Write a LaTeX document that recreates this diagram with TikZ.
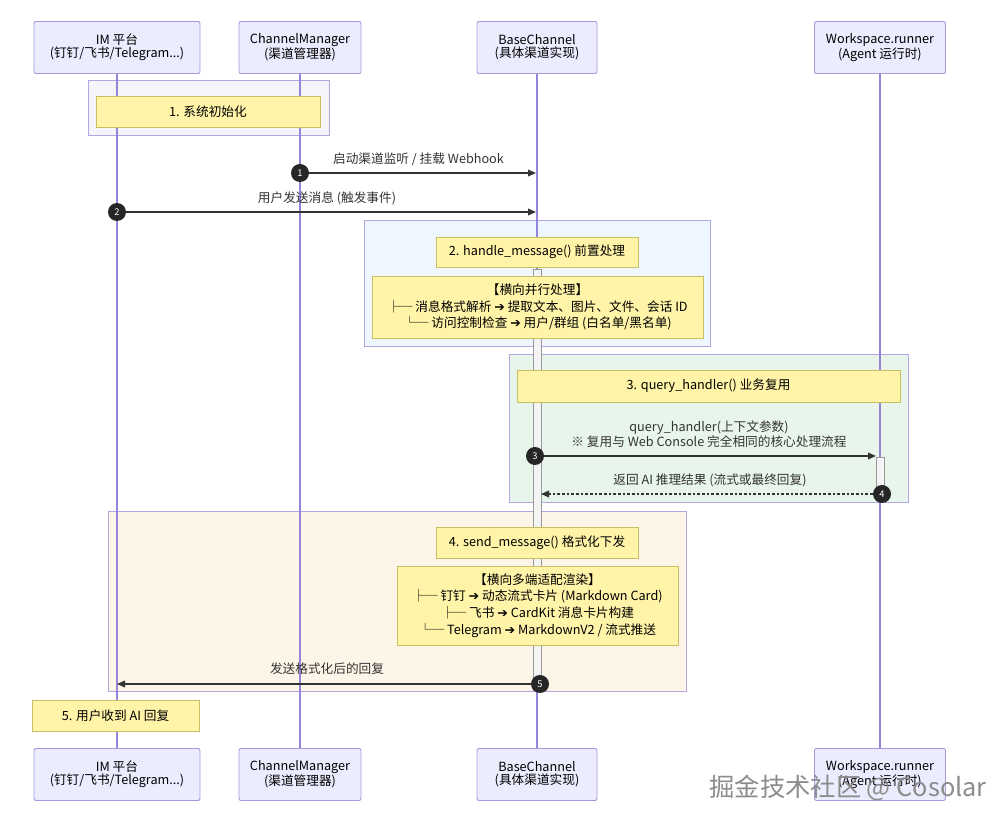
\documentclass[tikz,border=0pt]{standalone}
\usepackage{fontspec}
\setmainfont{Noto Sans CJK SC}
\newfontfamily\dejavu{DejaVu Sans}
\usetikzlibrary{arrows.meta}
\definecolor{actfill}{HTML}{ECECFF}
\definecolor{actdraw}{HTML}{A898E0}
\definecolor{lifecol}{HTML}{9585D8}
\definecolor{notefill}{HTML}{FFF4A8}
\definecolor{notedraw}{HTML}{C8C060}
\definecolor{gonefill}{HTML}{F4F4F9}
\definecolor{gtwofill}{HTML}{EEF6FF}
\definecolor{gthreefill}{HTML}{E8F5EA}
\definecolor{gfourfill}{HTML}{FDF5E8}
\definecolor{grpdraw}{HTML}{B4A6E4}
\definecolor{msgcol}{HTML}{333333}
\definecolor{barfill}{HTML}{F4F4F4}
\newcommand{\myarr}{{\dejavu ➔}}
\begin{document}
\begin{tikzpicture}[x=0.75pt,y=-0.75pt,
  actorbox/.style={draw=actdraw, fill=actfill, rounded corners=1.5pt, line width=0.7pt,
    minimum height=39pt, align=center, inner sep=0pt,
    font=\fontsize{9.5}{10}\selectfont, text=black},
  lifeline/.style={draw=lifecol, line width=1pt},
  grpbox/.style={draw=grpdraw, line width=0.7pt, inner sep=0pt},
  notebox/.style={draw=notedraw, fill=notefill, line width=0.6pt, align=center, inner sep=0pt,
    font=\fontsize{9.5}{12.6}\selectfont, text=black},
  actbar/.style={draw=gray!80, fill=barfill, line width=0.6pt, inner sep=0pt, minimum width=6pt},
  msgline/.style={draw=msgcol, line width=0.9pt, -{Triangle[length=6pt,width=5pt]}},
  retline/.style={draw=msgcol, line width=0.9pt, dash pattern=on 2pt off 1.5pt, -{Triangle[length=6pt,width=5pt]}},
  lbl/.style={font=\fontsize{9.5}{10.5}\selectfont, text=msgcol, align=center, inner sep=0pt},
  numcirc/.style={circle, fill=black!85, text=white, inner sep=0pt, minimum size=13.5pt,
    font=\fontsize{7}{7}\selectfont}
]
\useasboundingbox (0,0) rectangle (1008,823);
\fill[white] (0,0) rectangle (1008,823);

% group backgrounds
\node[grpbox, fill=gonefill, minimum width=180.75pt, minimum height=41.25pt] (g1) at (208.5,107.5) {};
\node[grpbox, fill=gtwofill, minimum width=259.5pt, minimum height=94.5pt] (g2) at (537,283) {};
\node[grpbox, fill=gthreefill, minimum width=299.25pt, minimum height=111pt] (g3) at (708.5,428) {};
\node[grpbox, fill=gfourfill, minimum width=433.5pt, minimum height=135pt] (g4) at (397,601) {};

% actors
\node[actorbox, minimum width=124.5pt] (imT) at (117,47.5) {IM 平台\\(钉钉/飞书/Telegram...)};
\node[actorbox, minimum width=91.5pt] (cmT) at (300,47.5) {ChannelManager\\(渠道管理器)};
\node[actorbox, minimum width=90pt] (bcT) at (537,47.5) {BaseChannel\\(具体渠道实现)};
\node[actorbox, minimum width=98.25pt] (wsT) at (880,47.5) {Workspace.runner\\(Agent 运行时)};
\node[actorbox, minimum width=124.5pt] (imB) at (117,774.5) {IM 平台\\(钉钉/飞书/Telegram...)};
\node[actorbox, minimum width=91.5pt] (cmB) at (300,774.5) {ChannelManager\\(渠道管理器)};
\node[actorbox, minimum width=90pt] (bcB) at (537,774.5) {BaseChannel\\(具体渠道实现)};
\node[actorbox, minimum width=98.25pt] (wsB) at (880,774.5) {Workspace.runner\\(Agent 运行时)};

% lifelines
\draw[lifeline] (imT) -- (imB);
\draw[lifeline] (cmT) -- (cmB);
\draw[lifeline] (bcT) -- (bcB);
\draw[lifeline] (wsT) -- (wsB);

% activation bars
\node[actbar, minimum height=315.75pt] (bcbar) at (537,479.5) {};
\node[actbar, minimum height=27.75pt] (wsbar) at (880.5,475.5) {};

% notes
\node[notebox, minimum width=168pt, minimum height=23.25pt] (n1) at (208,111.5) {1. 系统初始化};
\node[notebox, minimum width=151.5pt, minimum height=22.5pt] (n2a) at (537,252) {2. handle\_message() 前置处理};
\node[notebox, minimum width=248.25pt, minimum height=46.5pt] (n2b) at (537.5,307)
  {【横向并行处理】\\├─ 消息格式解析 \myarr{} 提取文本、图片、文件、会话 ID\\└─ 访问控制检查 \myarr{} 用户/群组 (白名单/黑名单)};
\node[notebox, minimum width=287.25pt, minimum height=24pt] (n3) at (708.5,386) {3. query\_handler() 业务复用};
\node[notebox, minimum width=151.5pt, minimum height=23.25pt] (n4a) at (537,542.5) {4. send\_message() 格式化下发};
\node[notebox, minimum width=210.75pt, minimum height=59.25pt] (n4b) at (537.5,605.5)
  {【横向多端适配渲染】\\├─ 钉钉 \myarr{} 动态流式卡片 (Markdown Card)\\├─ 飞书 \myarr{} CardKit 消息卡片构建\\└─ Telegram \myarr{} MarkdownV2 / 流式推送};
\node[notebox, minimum width=125.25pt, minimum height=23.25pt] (n5) at (115.5,715.5) {5. 用户收到 AI 回复};

% messages
\node[numcirc] (c1) at (300,173) {1};
\coordinate (m1e) at (536,173);
\draw[msgline] (c1.east) -- (m1e);
\node[lbl] (l1) at (418.5,159) {启动渠道监听 / 挂载 Webhook};

\node[numcirc] (c2) at (117,212) {2};
\coordinate (m2e) at (536,212);
\draw[msgline] (c2.east) -- (m2e);
\node[lbl] (l2) at (327,198) {用户发送消息 (触发事件)};

\node[numcirc] (c3) at (535,456) {3};
\coordinate (m3e) at (876,456);
\draw[msgline] (c3.east) -- (m3e);
\node[lbl, font=\fontsize{9.5}{10.8}\selectfont] (l3) at (709,434) {query\_handler(上下文参数)\\※ 复用与 Web Console 完全相同的核心处理流程};

\node[numcirc] (c4) at (882,494) {4};
\coordinate (m4e) at (541,494);
\draw[retline] (c4.west) -- (m4e);
\node[lbl] (l4) at (710,480) {返回 AI 推理结果 (流式或最终回复)};

\node[numcirc] (c5) at (540,684) {5};
\coordinate (m5e) at (117,684);
\draw[msgline] (c5.west) -- (m5e);
\node[lbl] (l5) at (327,669) {发送格式化后的回复};

% watermark
\node[font=\fontsize{19}{19}\selectfont, text=black!45, inner sep=0pt] (wm) at (848,788) {掘金技术社区 @ Cosolar};
\end{tikzpicture}
\end{document}
